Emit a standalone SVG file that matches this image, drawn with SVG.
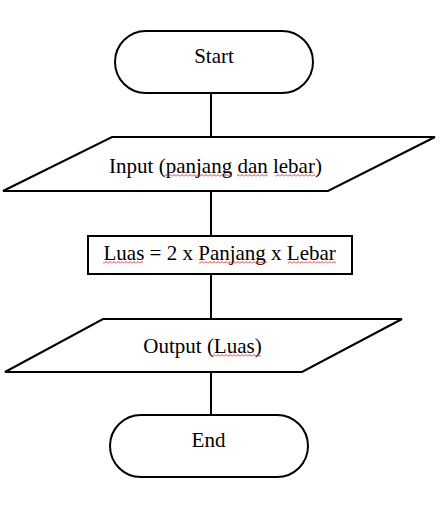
<svg xmlns="http://www.w3.org/2000/svg" width="440" height="506" viewBox="0 0 440 506">
<style>
.shape{fill:#fff;stroke:#000;stroke-width:2}
.conn{stroke:#000;stroke-width:2;fill:none}
.lbl{font-family:"Liberation Serif","Times New Roman",serif;font-size:21px;fill:#000;text-anchor:middle}
.sq{fill:url(#squiggle)}
</style>
<defs>
<pattern id="squiggle" patternUnits="userSpaceOnUse" width="4" height="3">
<path d="M0,2.5 L2,0.5 L4,2.5" fill="none" stroke="#e02020" stroke-width="0.9"/>
</pattern>
</defs>
<rect width="440" height="506" fill="#fff"/>
<g id="connectors">
<line class="conn" x1="211" y1="93" x2="211" y2="137"/>
<line class="conn" x1="211" y1="191" x2="211" y2="236"/>
<line class="conn" x1="211" y1="274" x2="211" y2="319"/>
<line class="conn" x1="211" y1="372" x2="211" y2="415"/>
</g>
<g id="start">
<rect class="shape" x="115" y="31" width="198" height="62" rx="31" ry="31"/>
<text class="lbl" x="214" y="63">Start</text>
</g>
<g id="input">
<polygon class="shape" points="112,137 435,137 328,191 3,191"/>
<text class="lbl" x="215.5" y="173">Input (panjang dan lebar)</text>
<rect class="sq" x="163" y="174" width="69" height="3"/>
<rect class="sq" x="237" y="174" width="31" height="3"/>
<rect class="sq" x="275" y="174" width="40" height="3"/>
</g>
<g id="process">
<rect class="shape" x="88" y="236" width="264" height="38"/>
<text class="lbl" x="219.7" y="260">Luas = 2 x Panjang x Lebar</text>
<rect class="sq" x="103" y="261" width="40" height="3"/>
<rect class="sq" x="199" y="261" width="68" height="3"/>
<rect class="sq" x="288" y="261" width="48" height="3"/>
</g>
<g id="output">
<polygon class="shape" points="103,319 402,319 302,372 5,372"/>
<text class="lbl" x="202.5" y="353">Output (Luas)</text>
<rect class="sq" x="210" y="354" width="51" height="3"/>
</g>
<g id="end">
<rect class="shape" x="110" y="415" width="198" height="62" rx="31" ry="31"/>
<text class="lbl" x="208.5" y="447">End</text>
</g>
</svg>
